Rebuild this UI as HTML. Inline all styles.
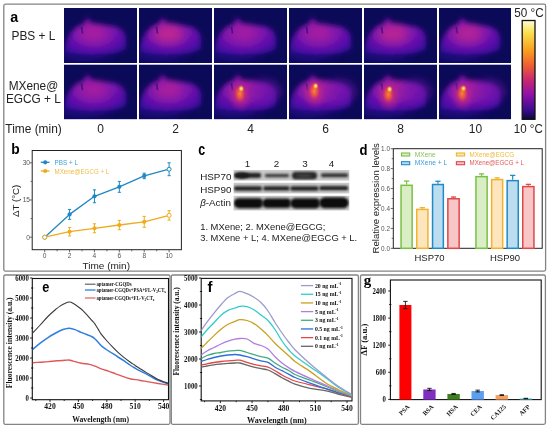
<!DOCTYPE html><html><head><meta charset="utf-8"><title>Figure</title>
<style>html,body{margin:0;padding:0;background:#fff;width:550px;height:427px;overflow:hidden;font-family:"Liberation Sans",sans-serif}svg{display:block;will-change:transform}</style></head><body>
<svg width="550" height="427" viewBox="0 0 550 427">
<defs>
<filter id="blur3" x="-20%" y="-20%" width="140%" height="140%"><feGaussianBlur stdDeviation="2.5"/></filter>
<filter id="blur1" x="-50%" y="-50%" width="200%" height="200%"><feGaussianBlur stdDeviation="1.2"/></filter>
<filter id="blur05" x="-50%" y="-50%" width="200%" height="200%"><feGaussianBlur stdDeviation="0.6"/></filter>
<radialGradient id="body" cx="0.4" cy="0.42" r="0.6"><stop offset="0" stop-color="#b226b6"/><stop offset="0.45" stop-color="#8a18b4"/><stop offset="1" stop-color="#3c0e98"/></radialGradient>
<radialGradient id="bodyb" cx="0.4" cy="0.42" r="0.6"><stop offset="0" stop-color="#d04a98"/><stop offset="0.45" stop-color="#9a20b0"/><stop offset="1" stop-color="#3c0e98"/></radialGradient>
<radialGradient id="hot" cx="0.5" cy="0.5" r="0.5"><stop offset="0" stop-color="#fff490"/><stop offset="0.15" stop-color="#ffd040"/><stop offset="0.35" stop-color="#f87a28"/><stop offset="0.65" stop-color="#d03070" stop-opacity="0.8"/><stop offset="1" stop-color="#a020a0" stop-opacity="0"/></radialGradient>
<linearGradient id="cbar" x1="0" y1="0" x2="0" y2="1"><stop offset="0" stop-color="#fcfdd8"/><stop offset="0.12" stop-color="#f9e050"/><stop offset="0.3" stop-color="#f8a020"/><stop offset="0.45" stop-color="#f06030"/><stop offset="0.6" stop-color="#c82870"/><stop offset="0.75" stop-color="#9010a8"/><stop offset="0.9" stop-color="#400c90"/><stop offset="1" stop-color="#0c0840"/></linearGradient>
<filter id="b6" x="-50%" y="-50%" width="200%" height="200%"><feGaussianBlur stdDeviation="6"/></filter>
<filter id="b25" x="-50%" y="-50%" width="200%" height="200%"><feGaussianBlur stdDeviation="2.5"/></filter>
<filter id="b4" x="-50%" y="-50%" width="200%" height="200%"><feGaussianBlur stdDeviation="4"/></filter>
<filter id="b3" x="-50%" y="-50%" width="200%" height="200%"><feGaussianBlur stdDeviation="3"/></filter>
<filter id="b2" x="-50%" y="-50%" width="200%" height="200%"><feGaussianBlur stdDeviation="1.8"/></filter>
<filter id="b15" x="-50%" y="-50%" width="200%" height="200%"><feGaussianBlur stdDeviation="1.5"/></filter>
<filter id="b08" x="-80%" y="-80%" width="260%" height="260%"><feGaussianBlur stdDeviation="0.8"/></filter>
<filter id="b05" x="-80%" y="-80%" width="260%" height="260%"><feGaussianBlur stdDeviation="0.5"/></filter>
<linearGradient id="bodyg" x1="0" y1="0" x2="0" y2="1"><stop offset="0.2" stop-color="#9414aa"/><stop offset="0.55" stop-color="#8012ac"/><stop offset="1" stop-color="#3a10a2"/></linearGradient>
<radialGradient id="bodyr" gradientUnits="userSpaceOnUse" cx="30" cy="23" r="30" gradientTransform="translate(30,23) scale(1.45,1) translate(-30,-23)"><stop offset="0" stop-color="#9c14aa"/><stop offset="0.45" stop-color="#7a12ae"/><stop offset="0.8" stop-color="#4a10a6"/><stop offset="1" stop-color="#30109c"/></radialGradient>
<radialGradient id="hred"><stop offset="0" stop-color="#e03868" stop-opacity="0.85"/><stop offset="0.6" stop-color="#c02888" stop-opacity="0.45"/><stop offset="1" stop-color="#a020a0" stop-opacity="0"/></radialGradient>
<radialGradient id="horg"><stop offset="0" stop-color="#f88a30" stop-opacity="1"/><stop offset="0.5" stop-color="#f06030" stop-opacity="0.7"/><stop offset="1" stop-color="#d03070" stop-opacity="0"/></radialGradient>
<radialGradient id="hcore"><stop offset="0" stop-color="#fff6a0"/><stop offset="0.35" stop-color="#ffe060" stop-opacity="0.95"/><stop offset="0.7" stop-color="#ffa030" stop-opacity="0.5"/><stop offset="1" stop-color="#ff8030" stop-opacity="0"/></radialGradient>
</defs>
<rect width="550" height="427" fill="#fff"/>
<rect x="3.8" y="4.2" width="541.8" height="266.9" rx="1.5" fill="none" stroke="#848484" stroke-width="1.3"/>
<rect x="3.8" y="275" width="166.2" height="149.3" rx="1.5" fill="none" stroke="#848484" stroke-width="1.3"/>
<rect x="171.3" y="275" width="187.1" height="149.3" rx="1.5" fill="none" stroke="#848484" stroke-width="1.3"/>
<rect x="360.5" y="275" width="184.9" height="149.3" rx="1.5" fill="none" stroke="#848484" stroke-width="1.3"/>
<text transform="translate(10.3,21.5) scale(0.93,1.0)" font-family='"Liberation Sans", sans-serif' font-size="15.4" font-weight="bold" fill="#000">a</text>
<text x="11.5" y="40.3" font-family='"Liberation Sans", sans-serif' font-size="12" font-weight="normal" fill="#222" text-anchor="start" textLength="44" lengthAdjust="spacingAndGlyphs">PBS + L</text>
<text x="8.7" y="89.8" font-family='"Liberation Sans", sans-serif' font-size="12" font-weight="normal" fill="#222" text-anchor="start" textLength="49.5" lengthAdjust="spacingAndGlyphs">MXene@</text>
<text x="5.9" y="103.3" font-family='"Liberation Sans", sans-serif' font-size="12" font-weight="normal" fill="#222" text-anchor="start" textLength="55" lengthAdjust="spacingAndGlyphs">EGCG + L</text>
<text x="5.3" y="133.1" font-family='"Liberation Sans", sans-serif' font-size="12" font-weight="normal" fill="#222" text-anchor="start" textLength="56.5" lengthAdjust="spacingAndGlyphs">Time (min)</text>
<text x="100.5" y="133.1" font-family='"Liberation Sans", sans-serif' font-size="12" font-weight="normal" fill="#222" text-anchor="middle" >0</text>
<text x="175.5" y="133.1" font-family='"Liberation Sans", sans-serif' font-size="12" font-weight="normal" fill="#222" text-anchor="middle" >2</text>
<text x="250.5" y="133.1" font-family='"Liberation Sans", sans-serif' font-size="12" font-weight="normal" fill="#222" text-anchor="middle" >4</text>
<text x="325.5" y="133.1" font-family='"Liberation Sans", sans-serif' font-size="12" font-weight="normal" fill="#222" text-anchor="middle" >6</text>
<text x="400.5" y="133.1" font-family='"Liberation Sans", sans-serif' font-size="12" font-weight="normal" fill="#222" text-anchor="middle" >8</text>
<text x="475.5" y="133.1" font-family='"Liberation Sans", sans-serif' font-size="12" font-weight="normal" fill="#222" text-anchor="middle" >10</text>
<svg x="64" y="8" width="73" height="54.8" viewBox="0 0 73 55" preserveAspectRatio="none" overflow="hidden">
<rect width="73" height="55" fill="#0b0a58"/>
<ellipse cx="20" cy="44" rx="26" ry="9" fill="#3010a0" opacity="0.55" filter="url(#b6)"/>
<path d="M2,36 C4,28 8,22 13,19 L20,16 L23.5,9 L27,15 C34,17 44,17 52,19 C58,21 61,24 62,30 L62,40 C58,45 48,46 38,46 C26,47 14,46 2,44 Z" fill="url(#bodyr)" filter="url(#b25)"/>
<ellipse cx="29" cy="26" rx="15" ry="9" fill="#c42a8c" opacity="0.35" filter="url(#b4)"/>
<path d="M17.5,19 L18.5,25.5" stroke="#2a0c7a" stroke-width="1.6" opacity="0.75" filter="url(#b05)"/>
</svg>
<svg x="139" y="8" width="73" height="54.8" viewBox="0 0 73 55" preserveAspectRatio="none" overflow="hidden">
<rect width="73" height="55" fill="#0b0a58"/>
<ellipse cx="20" cy="44" rx="26" ry="9" fill="#3010a0" opacity="0.55" filter="url(#b6)"/>
<path d="M2,36 C4,28 8,22 13,19 L20,16 L23.5,9 L27,15 C34,17 44,17 52,19 C58,21 61,24 62,30 L62,40 C58,45 48,46 38,46 C26,47 14,46 2,44 Z" fill="url(#bodyr)" filter="url(#b25)"/>
<ellipse cx="29" cy="26" rx="15" ry="9" fill="#c42a8c" opacity="0.8" filter="url(#b4)"/>
<path d="M17.5,19 L18.5,25.5" stroke="#2a0c7a" stroke-width="1.6" opacity="0.75" filter="url(#b05)"/>
</svg>
<svg x="214" y="8" width="73" height="54.8" viewBox="0 0 73 55" preserveAspectRatio="none" overflow="hidden">
<rect width="73" height="55" fill="#0b0a58"/>
<ellipse cx="20" cy="44" rx="26" ry="9" fill="#3010a0" opacity="0.55" filter="url(#b6)"/>
<path d="M2,36 C4,28 8,22 13,19 L20,16 L23.5,9 L27,15 C34,17 44,17 52,19 C58,21 61,24 62,30 L62,40 C58,45 48,46 38,46 C26,47 14,46 2,44 Z" fill="url(#bodyr)" filter="url(#b25)"/>
<ellipse cx="29" cy="26" rx="15" ry="9" fill="#c42a8c" opacity="0.25" filter="url(#b4)"/>
<path d="M17.5,19 L18.5,25.5" stroke="#2a0c7a" stroke-width="1.6" opacity="0.75" filter="url(#b05)"/>
</svg>
<svg x="289" y="8" width="73" height="54.8" viewBox="0 0 73 55" preserveAspectRatio="none" overflow="hidden">
<rect width="73" height="55" fill="#0b0a58"/>
<ellipse cx="20" cy="44" rx="26" ry="9" fill="#3010a0" opacity="0.55" filter="url(#b6)"/>
<path d="M2,36 C4,28 8,22 13,19 L20,16 L23.5,9 L27,15 C34,17 44,17 52,19 C58,21 61,24 62,30 L62,40 C58,45 48,46 38,46 C26,47 14,46 2,44 Z" fill="url(#bodyr)" filter="url(#b25)"/>
<ellipse cx="29" cy="26" rx="15" ry="9" fill="#c42a8c" opacity="0.3" filter="url(#b4)"/>
<path d="M17.5,19 L18.5,25.5" stroke="#2a0c7a" stroke-width="1.6" opacity="0.75" filter="url(#b05)"/>
</svg>
<svg x="364" y="8" width="73" height="54.8" viewBox="0 0 73 55" preserveAspectRatio="none" overflow="hidden">
<rect width="73" height="55" fill="#0b0a58"/>
<ellipse cx="20" cy="44" rx="26" ry="9" fill="#3010a0" opacity="0.55" filter="url(#b6)"/>
<path d="M2,36 C4,28 8,22 13,19 L20,16 L23.5,9 L27,15 C34,17 44,17 52,19 C58,21 61,24 62,30 L62,40 C58,45 48,46 38,46 C26,47 14,46 2,44 Z" fill="url(#bodyr)" filter="url(#b25)"/>
<ellipse cx="29" cy="26" rx="15" ry="9" fill="#c42a8c" opacity="0.7" filter="url(#b4)"/>
<path d="M17.5,19 L18.5,25.5" stroke="#2a0c7a" stroke-width="1.6" opacity="0.75" filter="url(#b05)"/>
</svg>
<svg x="439" y="8" width="72" height="54.8" viewBox="0 0 73 55" preserveAspectRatio="none" overflow="hidden">
<rect width="73" height="55" fill="#0b0a58"/>
<ellipse cx="20" cy="44" rx="26" ry="9" fill="#3010a0" opacity="0.55" filter="url(#b6)"/>
<path d="M2,36 C4,28 8,22 13,19 L20,16 L23.5,9 L27,15 C34,17 44,17 52,19 C58,21 61,24 62,30 L62,40 C58,45 48,46 38,46 C26,47 14,46 2,44 Z" fill="url(#bodyr)" filter="url(#b25)"/>
<ellipse cx="29" cy="26" rx="15" ry="9" fill="#c42a8c" opacity="0.6" filter="url(#b4)"/>
<path d="M17.5,19 L18.5,25.5" stroke="#2a0c7a" stroke-width="1.6" opacity="0.75" filter="url(#b05)"/>
</svg>
<svg x="64" y="64.7" width="73" height="54.5" viewBox="0 0 73 55" preserveAspectRatio="none" overflow="hidden">
<rect width="73" height="55" fill="#0b0a58"/>
<ellipse cx="20" cy="44" rx="26" ry="9" fill="#3010a0" opacity="0.55" filter="url(#b6)"/>
<path d="M2,36 C4,28 8,22 13,19 L20,16 L23.5,9 L27,15 C34,17 44,17 52,19 C58,21 61,24 62,30 L62,40 C58,45 48,46 38,46 C26,47 14,46 2,44 Z" fill="url(#bodyr)" filter="url(#b25)"/>
<ellipse cx="29" cy="26" rx="15" ry="9" fill="#c42a8c" opacity="0.3" filter="url(#b4)"/>
<path d="M17.5,19 L18.5,25.5" stroke="#2a0c7a" stroke-width="1.6" opacity="0.75" filter="url(#b05)"/>
</svg>
<svg x="139" y="64.7" width="73" height="54.5" viewBox="0 0 73 55" preserveAspectRatio="none" overflow="hidden">
<rect width="73" height="55" fill="#0b0a58"/>
<ellipse cx="20" cy="44" rx="26" ry="9" fill="#3010a0" opacity="0.55" filter="url(#b6)"/>
<path d="M2,36 C4,28 8,22 13,19 L20,16 L23.5,9 L27,15 C34,17 44,17 52,19 C58,21 61,24 62,30 L62,40 C58,45 48,46 38,46 C26,47 14,46 2,44 Z" fill="url(#bodyr)" filter="url(#b25)"/>
<ellipse cx="29" cy="26" rx="15" ry="9" fill="#c42a8c" opacity="0.4" filter="url(#b4)"/>
<path d="M17.5,19 L18.5,25.5" stroke="#2a0c7a" stroke-width="1.6" opacity="0.75" filter="url(#b05)"/>
</svg>
<svg x="214" y="64.7" width="73" height="54.5" viewBox="0 0 73 55" preserveAspectRatio="none" overflow="hidden">
<rect width="73" height="55" fill="#0b0a58"/>
<ellipse cx="20" cy="44" rx="26" ry="9" fill="#3010a0" opacity="0.55" filter="url(#b6)"/>
<path d="M2,36 C4,28 8,22 13,19 L20,16 L23.5,9 L27,15 C34,17 44,17 52,19 C58,21 61,24 62,30 L62,40 C58,45 48,46 38,46 C26,47 14,46 2,44 Z" fill="url(#bodyr)" filter="url(#b25)"/>
<ellipse cx="29" cy="26" rx="15" ry="9" fill="#c42a8c" opacity="0.5" filter="url(#b4)"/>
<path d="M17.5,19 L18.5,25.5" stroke="#2a0c7a" stroke-width="1.6" opacity="0.75" filter="url(#b05)"/>
<ellipse cx="26.4" cy="31.2" rx="13" ry="16" fill="url(#hred)"/>
<ellipse cx="50" cy="27" rx="17" ry="12" fill="#7a12ae" opacity="0.55" filter="url(#b4)"/>
<ellipse cx="25.9" cy="29.2" rx="6" ry="9.5" fill="url(#horg)"/>
<ellipse cx="27.2" cy="24.2" rx="3" ry="3.4" fill="url(#hcore)"/>
</svg>
<svg x="289" y="64.7" width="73" height="54.5" viewBox="0 0 73 55" preserveAspectRatio="none" overflow="hidden">
<rect width="73" height="55" fill="#0b0a58"/>
<ellipse cx="20" cy="44" rx="26" ry="9" fill="#3010a0" opacity="0.55" filter="url(#b6)"/>
<path d="M2,36 C4,28 8,22 13,19 L20,16 L23.5,9 L27,15 C34,17 44,17 52,19 C58,21 61,24 62,30 L62,40 C58,45 48,46 38,46 C26,47 14,46 2,44 Z" fill="url(#bodyr)" filter="url(#b25)"/>
<ellipse cx="29" cy="26" rx="15" ry="9" fill="#c42a8c" opacity="0.6" filter="url(#b4)"/>
<path d="M17.5,19 L18.5,25.5" stroke="#2a0c7a" stroke-width="1.6" opacity="0.75" filter="url(#b05)"/>
<ellipse cx="25.8" cy="28.5" rx="13" ry="16" fill="url(#hred)"/>
<ellipse cx="50" cy="27" rx="17" ry="12" fill="#7a12ae" opacity="0.55" filter="url(#b4)"/>
<ellipse cx="25.3" cy="26.5" rx="6" ry="9.5" fill="url(#horg)"/>
<ellipse cx="26.6" cy="21.5" rx="3" ry="3.4" fill="url(#hcore)"/>
</svg>
<svg x="364" y="64.7" width="73" height="54.5" viewBox="0 0 73 55" preserveAspectRatio="none" overflow="hidden">
<rect width="73" height="55" fill="#0b0a58"/>
<ellipse cx="20" cy="44" rx="26" ry="9" fill="#3010a0" opacity="0.55" filter="url(#b6)"/>
<path d="M2,36 C4,28 8,22 13,19 L20,16 L23.5,9 L27,15 C34,17 44,17 52,19 C58,21 61,24 62,30 L62,40 C58,45 48,46 38,46 C26,47 14,46 2,44 Z" fill="url(#bodyr)" filter="url(#b25)"/>
<ellipse cx="29" cy="26" rx="15" ry="9" fill="#c42a8c" opacity="0.6" filter="url(#b4)"/>
<path d="M17.5,19 L18.5,25.5" stroke="#2a0c7a" stroke-width="1.6" opacity="0.75" filter="url(#b05)"/>
<ellipse cx="24.8" cy="31.8" rx="13" ry="16" fill="url(#hred)"/>
<ellipse cx="50" cy="27" rx="17" ry="12" fill="#7a12ae" opacity="0.55" filter="url(#b4)"/>
<ellipse cx="24.3" cy="29.8" rx="6" ry="9.5" fill="url(#horg)"/>
<ellipse cx="25.6" cy="24.8" rx="3" ry="3.4" fill="url(#hcore)"/>
</svg>
<svg x="439" y="64.7" width="72" height="54.5" viewBox="0 0 73 55" preserveAspectRatio="none" overflow="hidden">
<rect width="73" height="55" fill="#0b0a58"/>
<ellipse cx="20" cy="44" rx="26" ry="9" fill="#3010a0" opacity="0.55" filter="url(#b6)"/>
<path d="M2,36 C4,28 8,22 13,19 L20,16 L23.5,9 L27,15 C34,17 44,17 52,19 C58,21 61,24 62,30 L62,40 C58,45 48,46 38,46 C26,47 14,46 2,44 Z" fill="url(#bodyr)" filter="url(#b25)"/>
<ellipse cx="29" cy="26" rx="15" ry="9" fill="#c42a8c" opacity="0.5" filter="url(#b4)"/>
<path d="M17.5,19 L18.5,25.5" stroke="#2a0c7a" stroke-width="1.6" opacity="0.75" filter="url(#b05)"/>
<ellipse cx="24.0" cy="31.0" rx="13" ry="16" fill="url(#hred)"/>
<ellipse cx="50" cy="27" rx="17" ry="12" fill="#7a12ae" opacity="0.55" filter="url(#b4)"/>
<ellipse cx="23.5" cy="29.0" rx="6" ry="9.5" fill="url(#horg)"/>
<ellipse cx="24.8" cy="24.0" rx="3" ry="3.4" fill="url(#hcore)"/>
</svg>
<text x="514.3" y="17.4" font-family='"Liberation Sans", sans-serif' font-size="12.2" font-weight="normal" fill="#222" text-anchor="start" textLength="29.5" lengthAdjust="spacingAndGlyphs">50 °C</text>
<rect x="522.2" y="20.5" width="12.8" height="98.8" fill="url(#cbar)" stroke="#111" stroke-width="1.3"/>
<text x="513.8" y="132.9" font-family='"Liberation Sans", sans-serif' font-size="12.2" font-weight="normal" fill="#222" text-anchor="start" textLength="29" lengthAdjust="spacingAndGlyphs">10 °C</text>
<text transform="translate(11.2,154.4) scale(0.96,1.0)" font-family='"Liberation Sans", sans-serif' font-size="14.4" font-weight="bold" fill="#000">b</text>
<rect x="32.2" y="150.5" width="149.2" height="99.19999999999999" fill="none" stroke="#222" stroke-width="1" />
<line x1="44.7" y1="249.7" x2="44.7" y2="252.29999999999998" stroke="#444" stroke-width="0.8" />
<line x1="57.14" y1="249.7" x2="57.14" y2="251.29999999999998" stroke="#444" stroke-width="0.8" />
<line x1="69.58" y1="249.7" x2="69.58" y2="252.29999999999998" stroke="#444" stroke-width="0.8" />
<line x1="82.02000000000001" y1="249.7" x2="82.02000000000001" y2="251.29999999999998" stroke="#444" stroke-width="0.8" />
<line x1="94.46000000000001" y1="249.7" x2="94.46000000000001" y2="252.29999999999998" stroke="#444" stroke-width="0.8" />
<line x1="106.9" y1="249.7" x2="106.9" y2="251.29999999999998" stroke="#444" stroke-width="0.8" />
<line x1="119.34" y1="249.7" x2="119.34" y2="252.29999999999998" stroke="#444" stroke-width="0.8" />
<line x1="131.78" y1="249.7" x2="131.78" y2="251.29999999999998" stroke="#444" stroke-width="0.8" />
<line x1="144.22" y1="249.7" x2="144.22" y2="252.29999999999998" stroke="#444" stroke-width="0.8" />
<line x1="156.66" y1="249.7" x2="156.66" y2="251.29999999999998" stroke="#444" stroke-width="0.8" />
<line x1="169.1" y1="249.7" x2="169.1" y2="252.29999999999998" stroke="#444" stroke-width="0.8" />
<text x="44.7" y="257.5" font-family='"Liberation Sans", sans-serif' font-size="6.6" font-weight="normal" fill="#555" text-anchor="middle" >0</text>
<text x="69.58" y="257.5" font-family='"Liberation Sans", sans-serif' font-size="6.6" font-weight="normal" fill="#555" text-anchor="middle" >2</text>
<text x="94.46000000000001" y="257.5" font-family='"Liberation Sans", sans-serif' font-size="6.6" font-weight="normal" fill="#555" text-anchor="middle" >4</text>
<text x="119.34" y="257.5" font-family='"Liberation Sans", sans-serif' font-size="6.6" font-weight="normal" fill="#555" text-anchor="middle" >6</text>
<text x="144.22" y="257.5" font-family='"Liberation Sans", sans-serif' font-size="6.6" font-weight="normal" fill="#555" text-anchor="middle" >8</text>
<text x="169.1" y="257.5" font-family='"Liberation Sans", sans-serif' font-size="6.6" font-weight="normal" fill="#555" text-anchor="middle" >10</text>
<line x1="29.6" y1="237.2" x2="32.2" y2="237.2" stroke="#444" stroke-width="0.8" />
<line x1="30.6" y1="218.6" x2="32.2" y2="218.6" stroke="#444" stroke-width="0.8" />
<line x1="29.6" y1="200.0" x2="32.2" y2="200.0" stroke="#444" stroke-width="0.8" />
<line x1="30.6" y1="181.39999999999998" x2="32.2" y2="181.39999999999998" stroke="#444" stroke-width="0.8" />
<line x1="29.6" y1="162.79999999999998" x2="32.2" y2="162.79999999999998" stroke="#444" stroke-width="0.8" />
<text x="30" y="239.5" font-family='"Liberation Sans", sans-serif' font-size="6.6" font-weight="normal" fill="#555" text-anchor="end" >0</text>
<text x="30" y="202.3" font-family='"Liberation Sans", sans-serif' font-size="6.6" font-weight="normal" fill="#555" text-anchor="end" >15</text>
<text x="30" y="165.1" font-family='"Liberation Sans", sans-serif' font-size="6.6" font-weight="normal" fill="#555" text-anchor="end" >30</text>
<text x="82.5" y="269.2" font-family='"Liberation Sans", sans-serif' font-size="9.8" fill="#222" textLength="47.5" lengthAdjust="spacingAndGlyphs">Time (min)</text>
<text transform="translate(19.3,217) rotate(-90)" font-family='"Liberation Sans", sans-serif' font-size="9.5" fill="#222" textLength="32.3" lengthAdjust="spacingAndGlyphs">ΔT (°C)</text>
<polyline points="44.7,237.2 69.6,214.4 94.5,196.3 119.3,186.9 144.2,175.9 169.1,169.2" fill="none" stroke="#1f88c2" stroke-width="1.3" stroke-linejoin="round" stroke-linecap="round" />
<line x1="69.58" y1="209.42399999999998" x2="69.58" y2="219.344" stroke="#1f88c2" stroke-width="1" />
<line x1="67.98" y1="209.42399999999998" x2="71.17999999999999" y2="209.42399999999998" stroke="#1f88c2" stroke-width="1" />
<line x1="67.98" y1="219.344" x2="71.17999999999999" y2="219.344" stroke="#1f88c2" stroke-width="1" />
<line x1="94.46000000000001" y1="189.83199999999997" x2="94.46000000000001" y2="202.72799999999998" stroke="#1f88c2" stroke-width="1" />
<line x1="92.86000000000001" y1="189.83199999999997" x2="96.06" y2="189.83199999999997" stroke="#1f88c2" stroke-width="1" />
<line x1="92.86000000000001" y1="202.72799999999998" x2="96.06" y2="202.72799999999998" stroke="#1f88c2" stroke-width="1" />
<line x1="119.34" y1="181.4" x2="119.34" y2="192.31199999999998" stroke="#1f88c2" stroke-width="1" />
<line x1="117.74000000000001" y1="181.4" x2="120.94" y2="181.4" stroke="#1f88c2" stroke-width="1" />
<line x1="117.74000000000001" y1="192.31199999999998" x2="120.94" y2="192.31199999999998" stroke="#1f88c2" stroke-width="1" />
<line x1="144.22" y1="173.21599999999998" x2="144.22" y2="178.672" stroke="#1f88c2" stroke-width="1" />
<line x1="142.62" y1="173.21599999999998" x2="145.82" y2="173.21599999999998" stroke="#1f88c2" stroke-width="1" />
<line x1="142.62" y1="178.672" x2="145.82" y2="178.672" stroke="#1f88c2" stroke-width="1" />
<line x1="169.1" y1="162.79999999999998" x2="169.1" y2="175.696" stroke="#1f88c2" stroke-width="1" />
<line x1="167.5" y1="162.79999999999998" x2="170.7" y2="162.79999999999998" stroke="#1f88c2" stroke-width="1" />
<line x1="167.5" y1="175.696" x2="170.7" y2="175.696" stroke="#1f88c2" stroke-width="1" />
<circle cx="44.7" cy="237.2" r="2" fill="#fff" stroke="#1f88c2" stroke-width="1"/>
<circle cx="69.58" cy="214.384" r="2.1" fill="#1f88c2"/>
<circle cx="94.46000000000001" cy="196.27999999999997" r="2.1" fill="#1f88c2"/>
<circle cx="119.34" cy="186.856" r="2.1" fill="#1f88c2"/>
<circle cx="144.22" cy="175.944" r="2.1" fill="#1f88c2"/>
<circle cx="169.1" cy="169.248" r="2" fill="#fff" stroke="#1f88c2" stroke-width="1"/>
<polyline points="44.7,237.2 69.6,231.7 94.5,228.3 119.3,225.0 144.2,221.8 169.1,215.4" fill="none" stroke="#efab1c" stroke-width="1.3" stroke-linejoin="round" stroke-linecap="round" />
<line x1="69.58" y1="227.528" x2="69.58" y2="235.96" stroke="#efab1c" stroke-width="1" />
<line x1="67.98" y1="227.528" x2="71.17999999999999" y2="227.528" stroke="#efab1c" stroke-width="1" />
<line x1="67.98" y1="235.96" x2="71.17999999999999" y2="235.96" stroke="#efab1c" stroke-width="1" />
<line x1="94.46000000000001" y1="223.808" x2="94.46000000000001" y2="232.736" stroke="#efab1c" stroke-width="1" />
<line x1="92.86000000000001" y1="223.808" x2="96.06" y2="223.808" stroke="#efab1c" stroke-width="1" />
<line x1="92.86000000000001" y1="232.736" x2="96.06" y2="232.736" stroke="#efab1c" stroke-width="1" />
<line x1="119.34" y1="220.336" x2="119.34" y2="229.76" stroke="#efab1c" stroke-width="1" />
<line x1="117.74000000000001" y1="220.336" x2="120.94" y2="220.336" stroke="#efab1c" stroke-width="1" />
<line x1="117.74000000000001" y1="229.76" x2="120.94" y2="229.76" stroke="#efab1c" stroke-width="1" />
<line x1="144.22" y1="216.368" x2="144.22" y2="227.27999999999997" stroke="#efab1c" stroke-width="1" />
<line x1="142.62" y1="216.368" x2="145.82" y2="216.368" stroke="#efab1c" stroke-width="1" />
<line x1="142.62" y1="227.27999999999997" x2="145.82" y2="227.27999999999997" stroke="#efab1c" stroke-width="1" />
<line x1="169.1" y1="210.664" x2="169.1" y2="220.08799999999997" stroke="#efab1c" stroke-width="1" />
<line x1="167.5" y1="210.664" x2="170.7" y2="210.664" stroke="#efab1c" stroke-width="1" />
<line x1="167.5" y1="220.08799999999997" x2="170.7" y2="220.08799999999997" stroke="#efab1c" stroke-width="1" />
<circle cx="44.7" cy="237.2" r="2" fill="#fff" stroke="#efab1c" stroke-width="1"/>
<circle cx="69.58" cy="231.744" r="2.1" fill="#efab1c"/>
<circle cx="94.46000000000001" cy="228.272" r="2.1" fill="#efab1c"/>
<circle cx="119.34" cy="225.048" r="2.1" fill="#efab1c"/>
<circle cx="144.22" cy="221.82399999999998" r="2.1" fill="#efab1c"/>
<circle cx="169.1" cy="215.37599999999998" r="2" fill="#fff" stroke="#efab1c" stroke-width="1"/>
<line x1="40.8" y1="162.3" x2="49.5" y2="162.3" stroke="#1f88c2" stroke-width="1.3" />
<circle cx="45.2" cy="162.3" r="2.1" fill="#1f88c2"/>
<text x="54.6" y="164.7" font-family='"Liberation Sans", sans-serif' font-size="6.4" font-weight="normal" fill="#3ba0d6" text-anchor="start" textLength="23.3" lengthAdjust="spacingAndGlyphs">PBS + L</text>
<line x1="40.8" y1="171.0" x2="49.5" y2="171.0" stroke="#efab1c" stroke-width="1.3" />
<circle cx="45.2" cy="171.0" r="2.1" fill="#efab1c"/>
<text x="54.6" y="173.5" font-family='"Liberation Sans", sans-serif' font-size="6.4" font-weight="normal" fill="#efbd45" text-anchor="start" textLength="54.6" lengthAdjust="spacingAndGlyphs">MXene@EGCG + L</text>
<text transform="translate(198.3,154.8) scale(0.8,1.0)" font-family='"Liberation Sans", sans-serif' font-size="15.6" font-weight="bold" fill="#000">c</text>
<text x="247.6" y="166.8" font-family='"Liberation Sans", sans-serif' font-size="9.8" font-weight="normal" fill="#222" text-anchor="middle" >1</text>
<text x="276.5" y="166.8" font-family='"Liberation Sans", sans-serif' font-size="9.8" font-weight="normal" fill="#222" text-anchor="middle" >2</text>
<text x="305" y="166.8" font-family='"Liberation Sans", sans-serif' font-size="9.8" font-weight="normal" fill="#222" text-anchor="middle" >3</text>
<text x="331.4" y="166.8" font-family='"Liberation Sans", sans-serif' font-size="9.8" font-weight="normal" fill="#222" text-anchor="middle" >4</text>
<text x="200.2" y="180.1" font-family='"Liberation Sans", sans-serif' font-size="9.8" font-weight="normal" fill="#222" text-anchor="start" textLength="31.2" lengthAdjust="spacingAndGlyphs">HSP70</text>
<text x="200.2" y="193.2" font-family='"Liberation Sans", sans-serif' font-size="9.8" font-weight="normal" fill="#222" text-anchor="start" textLength="31.2" lengthAdjust="spacingAndGlyphs">HSP90</text>
<text x="200.2" y="206.4" font-family='"Liberation Sans", sans-serif' font-size="9.8" fill="#222"><tspan font-style="italic">β</tspan>-Actin</text>
<rect x="233.6" y="170" width="115.7" height="10.599999999999994" fill="#cdcdcd" stroke="none" stroke-width="1" />
<rect x="233.6" y="182.8" width="115.7" height="10.599999999999994" fill="#cdcdcd" stroke="none" stroke-width="1" />
<rect x="233.6" y="195.8" width="115.7" height="14.599999999999994" fill="#cdcdcd" stroke="none" stroke-width="1" />
<clipPath id="cclip"><rect x="233.6" y="170" width="115.7" height="10.6"/><rect x="233.6" y="182.8" width="115.7" height="10.6"/><rect x="233.6" y="195.8" width="115.7" height="14.6"/></clipPath>
<g clip-path="url(#cclip)">
<rect x="233.5" y="171.7" width="28.5" height="7.3999999999999995" rx="3.6999999999999997" fill="#8a8a8a" opacity="0.45" filter="url(#b15)"/>
<rect x="234.5" y="173.1" width="26.5" height="4.6" rx="2.3" fill="#1a1a1a" opacity="0.95" filter="url(#b08)"/>
<rect x="264" y="172.79999999999998" width="26" height="5.6" rx="2.8" fill="#8a8a8a" opacity="0.45" filter="url(#b15)"/>
<rect x="265" y="174.2" width="24" height="2.8" rx="1.4" fill="#2a2a2a" opacity="0.9" filter="url(#b08)"/>
<rect x="291" y="170.5" width="27" height="10.2" rx="5.1" fill="#8a8a8a" opacity="0.45" filter="url(#b15)"/>
<rect x="292" y="171.9" width="25" height="7.4" rx="3.7" fill="#242424" opacity="0.95" filter="url(#b08)"/>
<rect x="320" y="171.99999999999997" width="29" height="6.4" rx="3.2" fill="#8a8a8a" opacity="0.45" filter="url(#b15)"/>
<rect x="321" y="173.39999999999998" width="27" height="3.6" rx="1.8" fill="#262626" opacity="0.9" filter="url(#b08)"/>
<rect x="233" y="185.0" width="30" height="6.8" rx="3.4" fill="#8a8a8a" opacity="0.45" filter="url(#b15)"/>
<rect x="234" y="186.4" width="28" height="4.0" rx="2.0" fill="#161616" opacity="0.95" filter="url(#b08)"/>
<rect x="262.5" y="185.1" width="28.0" height="6.6" rx="3.3" fill="#8a8a8a" opacity="0.45" filter="url(#b15)"/>
<rect x="263.5" y="186.5" width="26.0" height="3.8" rx="1.9" fill="#161616" opacity="0.95" filter="url(#b08)"/>
<rect x="289.5" y="185.0" width="30.0" height="6.8" rx="3.4" fill="#8a8a8a" opacity="0.45" filter="url(#b15)"/>
<rect x="290.5" y="186.4" width="28.0" height="4.0" rx="2.0" fill="#161616" opacity="0.95" filter="url(#b08)"/>
<rect x="318.5" y="184.89999999999998" width="30.5" height="6.6" rx="3.3" fill="#8a8a8a" opacity="0.45" filter="url(#b15)"/>
<rect x="319.5" y="186.29999999999998" width="28.5" height="3.8" rx="1.9" fill="#161616" opacity="0.95" filter="url(#b08)"/>
<rect x="233" y="196.99999999999997" width="31.5" height="12.399999999999999" rx="6.199999999999999" fill="#8a8a8a" opacity="0.45" filter="url(#b15)"/>
<rect x="234" y="198.39999999999998" width="29.5" height="9.6" rx="4.8" fill="#0c0c0c" opacity="1" filter="url(#b08)"/>
<rect x="261.5" y="197.29999999999998" width="31.0" height="11.8" rx="5.9" fill="#8a8a8a" opacity="0.45" filter="url(#b15)"/>
<rect x="262.5" y="198.7" width="29.0" height="9.0" rx="4.5" fill="#111" opacity="1" filter="url(#b08)"/>
<rect x="289.5" y="197.2" width="32.0" height="12.399999999999999" rx="6.199999999999999" fill="#8a8a8a" opacity="0.45" filter="url(#b15)"/>
<rect x="290.5" y="198.6" width="30.0" height="9.6" rx="4.8" fill="#0c0c0c" opacity="1" filter="url(#b08)"/>
<rect x="318.5" y="196.20000000000002" width="31.0" height="13.2" rx="6.6" fill="#8a8a8a" opacity="0.45" filter="url(#b15)"/>
<rect x="319.5" y="197.60000000000002" width="29.0" height="10.4" rx="5.2" fill="#0a0a0a" opacity="1" filter="url(#b08)"/>
<ellipse cx="242" cy="175.5" rx="7.5" ry="2.9" fill="#1a1a1a" filter="url(#b08)"/>
<ellipse cx="304" cy="175.8" rx="8" ry="1.6" fill="#555" opacity="0.6" filter="url(#b08)"/>
</g>
<text x="200.2" y="230.2" font-family='"Liberation Sans", sans-serif' font-size="9.4" font-weight="normal" fill="#222" text-anchor="start" >1. MXene; 2. MXene@EGCG;</text>
<text x="200.2" y="240.8" font-family='"Liberation Sans", sans-serif' font-size="9.4" font-weight="normal" fill="#222" text-anchor="start" >3. MXene + L; 4. MXene@EGCG + L.</text>
<text transform="translate(359.5,154.7) scale(0.9,1.0)" font-family='"Liberation Sans", sans-serif' font-size="14.5" font-weight="bold" fill="#000">d</text>
<rect x="393.3" y="148.7" width="148.90000000000003" height="99.60000000000002" fill="none" stroke="#222" stroke-width="1" />
<line x1="390.7" y1="248.3" x2="393.3" y2="248.3" stroke="#444" stroke-width="0.8" />
<line x1="391.7" y1="238.34" x2="393.3" y2="238.34" stroke="#444" stroke-width="0.8" />
<line x1="390.7" y1="228.38" x2="393.3" y2="228.38" stroke="#444" stroke-width="0.8" />
<line x1="391.7" y1="218.42000000000002" x2="393.3" y2="218.42000000000002" stroke="#444" stroke-width="0.8" />
<line x1="390.7" y1="208.46" x2="393.3" y2="208.46" stroke="#444" stroke-width="0.8" />
<line x1="391.7" y1="198.5" x2="393.3" y2="198.5" stroke="#444" stroke-width="0.8" />
<line x1="390.7" y1="188.54000000000002" x2="393.3" y2="188.54000000000002" stroke="#444" stroke-width="0.8" />
<line x1="391.7" y1="178.58000000000004" x2="393.3" y2="178.58000000000004" stroke="#444" stroke-width="0.8" />
<line x1="390.7" y1="168.62" x2="393.3" y2="168.62" stroke="#444" stroke-width="0.8" />
<line x1="391.7" y1="158.66000000000003" x2="393.3" y2="158.66000000000003" stroke="#444" stroke-width="0.8" />
<line x1="390.7" y1="148.70000000000002" x2="393.3" y2="148.70000000000002" stroke="#444" stroke-width="0.8" />
<text x="390" y="250.5" font-family='"Liberation Sans", sans-serif' font-size="6.4" font-weight="normal" fill="#555" text-anchor="end" >0.0</text>
<text x="390" y="230.57999999999998" font-family='"Liberation Sans", sans-serif' font-size="6.4" font-weight="normal" fill="#555" text-anchor="end" >0.2</text>
<text x="390" y="210.66" font-family='"Liberation Sans", sans-serif' font-size="6.4" font-weight="normal" fill="#555" text-anchor="end" >0.4</text>
<text x="390" y="190.74" font-family='"Liberation Sans", sans-serif' font-size="6.4" font-weight="normal" fill="#555" text-anchor="end" >0.6</text>
<text x="390" y="170.82" font-family='"Liberation Sans", sans-serif' font-size="6.4" font-weight="normal" fill="#555" text-anchor="end" >0.8</text>
<text x="390" y="150.9" font-family='"Liberation Sans", sans-serif' font-size="6.4" font-weight="normal" fill="#555" text-anchor="end" >1.0</text>
<text transform="translate(378.8,253.4) rotate(-90)" font-family='"Liberation Sans", sans-serif' font-size="9.6" fill="#222" textLength="110.3" lengthAdjust="spacingAndGlyphs">Relative expression levels</text>
<text x="429.5" y="260.8" font-family='"Liberation Sans", sans-serif' font-size="9.5" font-weight="normal" fill="#222" text-anchor="middle" >HSP70</text>
<text x="505" y="260.8" font-family='"Liberation Sans", sans-serif' font-size="9.5" font-weight="normal" fill="#222" text-anchor="middle" >HSP90</text>
<rect x="401.05" y="185.306" width="11.099999999999966" height="62.994" fill="#d9edc6" stroke="#7ac143" stroke-width="1.5" />
<line x1="406.6" y1="184.556" x2="406.6" y2="181.07" stroke="#7ac143" stroke-width="1.2" />
<line x1="404.0" y1="181.07" x2="409.20000000000005" y2="181.07" stroke="#7ac143" stroke-width="1.3" />
<rect x="416.75" y="209.4092" width="11.199999999999989" height="38.89080000000001" fill="#fde6bd" stroke="#f1b22e" stroke-width="1.5" />
<line x1="422.35" y1="208.6592" x2="422.35" y2="207.66320000000002" stroke="#f1b22e" stroke-width="1.2" />
<line x1="419.75" y1="207.66320000000002" x2="424.95000000000005" y2="207.66320000000002" stroke="#f1b22e" stroke-width="1.3" />
<rect x="432.55" y="184.50920000000002" width="10.800000000000011" height="63.79079999999999" fill="#bcdcf0" stroke="#1f8ac6" stroke-width="1.5" />
<line x1="437.95000000000005" y1="183.75920000000002" x2="437.95000000000005" y2="181.2692" stroke="#1f8ac6" stroke-width="1.2" />
<line x1="435.35" y1="181.2692" x2="440.55000000000007" y2="181.2692" stroke="#1f8ac6" stroke-width="1.3" />
<rect x="447.85" y="198.752" width="11.299999999999955" height="49.548" fill="#f8c6c6" stroke="#e04848" stroke-width="1.5" />
<line x1="453.5" y1="198.002" x2="453.5" y2="197.00600000000003" stroke="#e04848" stroke-width="1.2" />
<line x1="450.9" y1="197.00600000000003" x2="456.1" y2="197.00600000000003" stroke="#e04848" stroke-width="1.3" />
<rect x="475.95" y="176.6408" width="11.199999999999989" height="71.6592" fill="#d9edc6" stroke="#7ac143" stroke-width="1.5" />
<line x1="481.54999999999995" y1="175.8908" x2="481.54999999999995" y2="173.89880000000002" stroke="#7ac143" stroke-width="1.2" />
<line x1="478.94999999999993" y1="173.89880000000002" x2="484.15" y2="173.89880000000002" stroke="#7ac143" stroke-width="1.3" />
<rect x="491.65" y="179.6288" width="11.0" height="68.6712" fill="#fde6bd" stroke="#f1b22e" stroke-width="1.5" />
<line x1="497.15" y1="178.8788" x2="497.15" y2="177.88280000000003" stroke="#f1b22e" stroke-width="1.2" />
<line x1="494.54999999999995" y1="177.88280000000003" x2="499.75" y2="177.88280000000003" stroke="#f1b22e" stroke-width="1.3" />
<rect x="507.15" y="180.6248" width="11.100000000000023" height="67.67520000000002" fill="#bcdcf0" stroke="#1f8ac6" stroke-width="1.5" />
<line x1="512.7" y1="179.8748" x2="512.7" y2="175.39280000000002" stroke="#1f8ac6" stroke-width="1.2" />
<line x1="510.1" y1="175.39280000000002" x2="515.3000000000001" y2="175.39280000000002" stroke="#1f8ac6" stroke-width="1.3" />
<rect x="522.75" y="186.60080000000002" width="11.200000000000045" height="61.69919999999999" fill="#f8c6c6" stroke="#e04848" stroke-width="1.5" />
<line x1="528.35" y1="185.85080000000002" x2="528.35" y2="184.35680000000002" stroke="#e04848" stroke-width="1.2" />
<line x1="525.75" y1="184.35680000000002" x2="530.95" y2="184.35680000000002" stroke="#e04848" stroke-width="1.3" />
<rect x="401.5" y="153.0" width="8.2" height="3" fill="#d9edc6" stroke="#7ac143" stroke-width="1.1" />
<text x="414.7" y="156.7" font-family='"Liberation Sans", sans-serif' font-size="6.4" font-weight="normal" fill="#86c358" text-anchor="start" textLength="21" lengthAdjust="spacingAndGlyphs">MXene</text>
<rect x="401.5" y="161.7" width="8.2" height="3" fill="#bcdcf0" stroke="#1f8ac6" stroke-width="1.1" />
<text x="414.7" y="165.39999999999998" font-family='"Liberation Sans", sans-serif' font-size="6.4" font-weight="normal" fill="#3a9ad8" text-anchor="start" textLength="32.5" lengthAdjust="spacingAndGlyphs">MXene + L</text>
<rect x="456.4" y="153.0" width="8.2" height="3" fill="#fde6bd" stroke="#f1b22e" stroke-width="1.1" />
<text x="469.59999999999997" y="156.7" font-family='"Liberation Sans", sans-serif' font-size="6.4" font-weight="normal" fill="#f2b83a" text-anchor="start" textLength="44.5" lengthAdjust="spacingAndGlyphs">MXene@EGCG</text>
<rect x="456.4" y="161.7" width="8.2" height="3" fill="#f8c6c6" stroke="#e04848" stroke-width="1.1" />
<text x="469.59999999999997" y="165.39999999999998" font-family='"Liberation Sans", sans-serif' font-size="6.4" font-weight="normal" fill="#e05a5a" text-anchor="start" textLength="54.3" lengthAdjust="spacingAndGlyphs">MXene@EGCG + L</text>
<rect x="32.3" y="278.5" width="136.2" height="121.19999999999999" fill="none" stroke="#111" stroke-width="1.1" />
<line x1="30.099999999999998" y1="398.0" x2="32.3" y2="398.0" stroke="#111" stroke-width="0.9" />
<line x1="30.999999999999996" y1="388.0" x2="33.3" y2="388.0" stroke="#111" stroke-width="0.9" />
<line x1="30.099999999999998" y1="378.0" x2="32.3" y2="378.0" stroke="#111" stroke-width="0.9" />
<line x1="30.999999999999996" y1="368.0" x2="33.3" y2="368.0" stroke="#111" stroke-width="0.9" />
<line x1="30.099999999999998" y1="358.0" x2="32.3" y2="358.0" stroke="#111" stroke-width="0.9" />
<line x1="30.999999999999996" y1="348.0" x2="33.3" y2="348.0" stroke="#111" stroke-width="0.9" />
<line x1="30.099999999999998" y1="338.0" x2="32.3" y2="338.0" stroke="#111" stroke-width="0.9" />
<line x1="30.999999999999996" y1="328.0" x2="33.3" y2="328.0" stroke="#111" stroke-width="0.9" />
<line x1="30.099999999999998" y1="318.0" x2="32.3" y2="318.0" stroke="#111" stroke-width="0.9" />
<line x1="30.999999999999996" y1="308.0" x2="33.3" y2="308.0" stroke="#111" stroke-width="0.9" />
<line x1="30.099999999999998" y1="298.0" x2="32.3" y2="298.0" stroke="#111" stroke-width="0.9" />
<line x1="30.999999999999996" y1="288.0" x2="33.3" y2="288.0" stroke="#111" stroke-width="0.9" />
<line x1="30.099999999999998" y1="278.0" x2="32.3" y2="278.0" stroke="#111" stroke-width="0.9" />
<text x="28.9" y="400.5" font-family='"Liberation Serif", serif' font-size="7.4" font-weight="bold" fill="#111" text-anchor="end" textLength="3.4" lengthAdjust="spacingAndGlyphs">0</text>
<text x="28.9" y="380.5" font-family='"Liberation Serif", serif' font-size="7.4" font-weight="bold" fill="#111" text-anchor="end" textLength="13.6" lengthAdjust="spacingAndGlyphs">1000</text>
<text x="28.9" y="360.5" font-family='"Liberation Serif", serif' font-size="7.4" font-weight="bold" fill="#111" text-anchor="end" textLength="13.6" lengthAdjust="spacingAndGlyphs">2000</text>
<text x="28.9" y="340.5" font-family='"Liberation Serif", serif' font-size="7.4" font-weight="bold" fill="#111" text-anchor="end" textLength="13.6" lengthAdjust="spacingAndGlyphs">3000</text>
<text x="28.9" y="320.5" font-family='"Liberation Serif", serif' font-size="7.4" font-weight="bold" fill="#111" text-anchor="end" textLength="13.6" lengthAdjust="spacingAndGlyphs">4000</text>
<text x="28.9" y="300.5" font-family='"Liberation Serif", serif' font-size="7.4" font-weight="bold" fill="#111" text-anchor="end" textLength="13.6" lengthAdjust="spacingAndGlyphs">5000</text>
<text x="28.9" y="280.5" font-family='"Liberation Serif", serif' font-size="7.4" font-weight="bold" fill="#111" text-anchor="end" textLength="13.6" lengthAdjust="spacingAndGlyphs">6000</text>
<line x1="35.8" y1="399.7" x2="35.8" y2="401.0" stroke="#111" stroke-width="0.9" />
<line x1="50.0" y1="399.7" x2="50.0" y2="401.9" stroke="#111" stroke-width="0.9" />
<line x1="64.2" y1="399.7" x2="64.2" y2="401.0" stroke="#111" stroke-width="0.9" />
<line x1="78.4" y1="399.7" x2="78.4" y2="401.9" stroke="#111" stroke-width="0.9" />
<line x1="92.6" y1="399.7" x2="92.6" y2="401.0" stroke="#111" stroke-width="0.9" />
<line x1="106.8" y1="399.7" x2="106.8" y2="401.9" stroke="#111" stroke-width="0.9" />
<line x1="121.0" y1="399.7" x2="121.0" y2="401.0" stroke="#111" stroke-width="0.9" />
<line x1="135.2" y1="399.7" x2="135.2" y2="401.9" stroke="#111" stroke-width="0.9" />
<line x1="149.4" y1="399.7" x2="149.4" y2="401.0" stroke="#111" stroke-width="0.9" />
<line x1="163.6" y1="399.7" x2="163.6" y2="401.9" stroke="#111" stroke-width="0.9" />
<text x="50.0" y="409.3" font-family='"Liberation Serif", serif' font-size="7.6" font-weight="bold" fill="#111" text-anchor="middle" >420</text>
<text x="78.4" y="409.3" font-family='"Liberation Serif", serif' font-size="7.6" font-weight="bold" fill="#111" text-anchor="middle" >450</text>
<text x="106.8" y="409.3" font-family='"Liberation Serif", serif' font-size="7.6" font-weight="bold" fill="#111" text-anchor="middle" >480</text>
<text x="135.2" y="409.3" font-family='"Liberation Serif", serif' font-size="7.6" font-weight="bold" fill="#111" text-anchor="middle" >510</text>
<text x="163.6" y="409.3" font-family='"Liberation Serif", serif' font-size="7.6" font-weight="bold" fill="#111" text-anchor="middle" >540</text>
<text x="72.2" y="421.9" font-family='"Liberation Serif", serif' font-size="7.8" font-weight="bold" fill="#111" text-anchor="start" textLength="56.8" lengthAdjust="spacingAndGlyphs">Wavelength (nm)</text>
<text transform="translate(11.8,388.2) rotate(-90)" font-family='"Liberation Serif", serif' font-weight="bold" font-size="7.6" fill="#111" textLength="90.8" lengthAdjust="spacingAndGlyphs">Fluorescence intensity (a.u.)</text>
<text transform="translate(42.2,291.8) scale(0.9,1.0)" font-family='"Liberation Sans", sans-serif' font-size="14.2" font-weight="bold" fill="#000">e</text>
<clipPath id="eclip"><rect x="32.8" y="279" width="135.4" height="120.4"/></clipPath>
<g clip-path="url(#eclip)">
<path d="M32.50,362.80 C33.78,362.70 37.55,362.40 40.20,362.20 C42.85,362.00 45.67,361.83 48.40,361.60 C51.13,361.37 53.87,361.02 56.60,360.80 C59.33,360.58 62.75,360.43 64.80,360.30 C66.85,360.17 67.53,359.87 68.90,360.00 C70.27,360.13 70.95,360.57 73.00,361.10 C75.05,361.63 78.47,362.65 81.20,363.20 C83.93,363.75 87.10,363.90 89.40,364.40 C91.70,364.90 92.90,365.42 95.00,366.20 C97.10,366.98 99.75,368.27 102.00,369.10 C104.25,369.93 106.23,370.42 108.50,371.20 C110.77,371.98 113.25,372.95 115.60,373.80 C117.95,374.65 120.20,375.47 122.60,376.30 C125.00,377.13 127.20,378.15 130.00,378.80 C132.80,379.45 136.28,379.68 139.40,380.20 C142.52,380.72 145.58,381.35 148.70,381.90 C151.82,382.45 154.83,382.97 158.10,383.50 C161.37,384.03 166.60,384.83 168.30,385.10" fill="none" stroke="#e05858" stroke-width="1.4" stroke-linejoin="round" stroke-linecap="round" />
<path d="M32.50,349.60 C33.78,348.52 37.55,345.15 40.20,343.10 C42.85,341.05 46.10,338.82 48.40,337.30 C50.70,335.78 52.07,335.10 54.00,334.00 C55.93,332.90 58.20,331.53 60.00,330.70 C61.80,329.87 63.23,329.40 64.80,329.00 C66.37,328.60 67.70,328.20 69.40,328.30 C71.10,328.40 73.05,328.92 75.00,329.60 C76.95,330.28 79.27,331.62 81.10,332.40 C82.93,333.18 84.25,333.62 86.00,334.30 C87.75,334.98 90.10,335.72 91.60,336.50 C93.10,337.28 93.73,337.83 95.00,339.00 C96.27,340.17 98.03,342.28 99.20,343.50 C100.37,344.72 100.70,345.22 102.00,346.30 C103.30,347.38 105.25,348.83 107.00,350.00 C108.75,351.17 110.67,352.13 112.50,353.30 C114.33,354.47 116.05,355.73 118.00,357.00 C119.95,358.27 122.20,359.57 124.20,360.90 C126.20,362.23 128.23,363.82 130.00,365.00 C131.77,366.18 133.23,367.07 134.80,368.00 C136.37,368.93 137.08,369.38 139.40,370.60 C141.72,371.82 145.58,373.67 148.70,375.30 C151.82,376.93 154.83,378.97 158.10,380.40 C161.37,381.83 166.60,383.32 168.30,383.90" fill="none" stroke="#2e7fe0" stroke-width="1.5" stroke-linejoin="round" stroke-linecap="round" />
<path d="M32.50,333.20 C33.78,331.83 37.55,327.87 40.20,325.00 C42.85,322.13 45.67,318.72 48.40,316.00 C51.13,313.28 54.67,310.35 56.60,308.70 C58.53,307.05 58.63,306.98 60.00,306.10 C61.37,305.22 63.23,304.08 64.80,303.40 C66.37,302.72 68.03,302.02 69.40,302.00 C70.77,301.98 71.05,302.13 73.00,303.30 C74.95,304.47 78.93,307.25 81.10,309.00 C83.27,310.75 84.25,311.95 86.00,313.80 C87.75,315.65 90.10,318.38 91.60,320.10 C93.10,321.82 93.73,322.28 95.00,324.10 C96.27,325.92 98.03,329.15 99.20,331.00 C100.37,332.85 100.70,333.53 102.00,335.20 C103.30,336.87 105.25,339.05 107.00,341.00 C108.75,342.95 110.67,345.02 112.50,346.90 C114.33,348.78 116.05,350.52 118.00,352.30 C119.95,354.08 122.20,355.98 124.20,357.60 C126.20,359.22 128.23,360.73 130.00,362.00 C131.77,363.27 133.23,364.15 134.80,365.20 C136.37,366.25 137.08,366.85 139.40,368.30 C141.72,369.75 145.58,372.03 148.70,373.90 C151.82,375.77 154.83,377.93 158.10,379.50 C161.37,381.07 166.60,382.67 168.30,383.30" fill="none" stroke="#3a3a3a" stroke-width="1.1" stroke-linejoin="round" stroke-linecap="round" />
</g>
<line x1="84.9" y1="284.2" x2="95.5" y2="284.2" stroke="#555" stroke-width="1.1" />
<line x1="84.9" y1="290.0" x2="95.5" y2="290.0" stroke="#2e7fe0" stroke-width="1.3" />
<line x1="84.9" y1="298.0" x2="95.5" y2="298.0" stroke="#e06060" stroke-width="1.2" />
<text x="96.4" y="286.1" font-family='"Liberation Serif", serif' font-size="5.6" font-weight="bold" fill="#111" text-anchor="start" textLength="35.2" lengthAdjust="spacingAndGlyphs">aptamer-CGQDs</text>
<text x="96.4" y="291.9" font-family='"Liberation Serif", serif' font-weight="bold" font-size="5.6" fill="#111" textLength="69.6" lengthAdjust="spacingAndGlyphs">aptamer-CGQDs+PSA+FL-V<tspan font-size="3.9" dy="1">2</tspan><tspan dy="-1">CT</tspan><tspan font-size="3.9" dy="1">x</tspan></text>
<text x="96.4" y="299.9" font-family='"Liberation Serif", serif' font-weight="bold" font-size="5.6" fill="#111" textLength="58.1" lengthAdjust="spacingAndGlyphs">aptamer-CGQDs+FL-V<tspan font-size="3.9" dy="1">2</tspan><tspan dy="-1">CT</tspan><tspan font-size="3.9" dy="1">x</tspan></text>
<rect x="201.2" y="278.4" width="150.8" height="122.5" fill="none" stroke="#111" stroke-width="1.1" />
<line x1="199.89999999999998" y1="399.5" x2="202.2" y2="399.5" stroke="#111" stroke-width="0.9" />
<line x1="199.0" y1="386.0" x2="201.2" y2="386.0" stroke="#111" stroke-width="0.9" />
<line x1="199.89999999999998" y1="372.5" x2="202.2" y2="372.5" stroke="#111" stroke-width="0.9" />
<line x1="199.0" y1="359.0" x2="201.2" y2="359.0" stroke="#111" stroke-width="0.9" />
<line x1="199.89999999999998" y1="345.5" x2="202.2" y2="345.5" stroke="#111" stroke-width="0.9" />
<line x1="199.0" y1="332.0" x2="201.2" y2="332.0" stroke="#111" stroke-width="0.9" />
<line x1="199.89999999999998" y1="318.5" x2="202.2" y2="318.5" stroke="#111" stroke-width="0.9" />
<line x1="199.0" y1="305.0" x2="201.2" y2="305.0" stroke="#111" stroke-width="0.9" />
<line x1="199.89999999999998" y1="291.5" x2="202.2" y2="291.5" stroke="#111" stroke-width="0.9" />
<line x1="199.0" y1="278.0" x2="201.2" y2="278.0" stroke="#111" stroke-width="0.9" />
<text x="197.7" y="388.5" font-family='"Liberation Serif", serif' font-size="7.4" font-weight="bold" fill="#111" text-anchor="end" textLength="13.6" lengthAdjust="spacingAndGlyphs">1000</text>
<text x="197.7" y="361.5" font-family='"Liberation Serif", serif' font-size="7.4" font-weight="bold" fill="#111" text-anchor="end" textLength="13.6" lengthAdjust="spacingAndGlyphs">2000</text>
<text x="197.7" y="334.5" font-family='"Liberation Serif", serif' font-size="7.4" font-weight="bold" fill="#111" text-anchor="end" textLength="13.6" lengthAdjust="spacingAndGlyphs">3000</text>
<text x="197.7" y="307.5" font-family='"Liberation Serif", serif' font-size="7.4" font-weight="bold" fill="#111" text-anchor="end" textLength="13.6" lengthAdjust="spacingAndGlyphs">4000</text>
<text x="197.7" y="280.5" font-family='"Liberation Serif", serif' font-size="7.4" font-weight="bold" fill="#111" text-anchor="end" textLength="13.6" lengthAdjust="spacingAndGlyphs">5000</text>
<line x1="204.57500000000002" y1="400.9" x2="204.57500000000002" y2="402.2" stroke="#111" stroke-width="0.9" />
<line x1="220.4" y1="400.9" x2="220.4" y2="403.09999999999997" stroke="#111" stroke-width="0.9" />
<line x1="236.225" y1="400.9" x2="236.225" y2="402.2" stroke="#111" stroke-width="0.9" />
<line x1="252.05" y1="400.9" x2="252.05" y2="403.09999999999997" stroke="#111" stroke-width="0.9" />
<line x1="267.875" y1="400.9" x2="267.875" y2="402.2" stroke="#111" stroke-width="0.9" />
<line x1="283.7" y1="400.9" x2="283.7" y2="403.09999999999997" stroke="#111" stroke-width="0.9" />
<line x1="299.525" y1="400.9" x2="299.525" y2="402.2" stroke="#111" stroke-width="0.9" />
<line x1="315.35" y1="400.9" x2="315.35" y2="403.09999999999997" stroke="#111" stroke-width="0.9" />
<line x1="331.175" y1="400.9" x2="331.175" y2="402.2" stroke="#111" stroke-width="0.9" />
<line x1="347.0" y1="400.9" x2="347.0" y2="403.09999999999997" stroke="#111" stroke-width="0.9" />
<text x="220.4" y="411.3" font-family='"Liberation Serif", serif' font-size="7.6" font-weight="bold" fill="#111" text-anchor="middle" >420</text>
<text x="252.05" y="411.3" font-family='"Liberation Serif", serif' font-size="7.6" font-weight="bold" fill="#111" text-anchor="middle" >450</text>
<text x="283.7" y="411.3" font-family='"Liberation Serif", serif' font-size="7.6" font-weight="bold" fill="#111" text-anchor="middle" >480</text>
<text x="315.35" y="411.3" font-family='"Liberation Serif", serif' font-size="7.6" font-weight="bold" fill="#111" text-anchor="middle" >510</text>
<text x="347.0" y="411.3" font-family='"Liberation Serif", serif' font-size="7.6" font-weight="bold" fill="#111" text-anchor="middle" >540</text>
<text x="247.1" y="422.7" font-family='"Liberation Serif", serif' font-size="8.0" font-weight="bold" fill="#111" text-anchor="start" textLength="59.6" lengthAdjust="spacingAndGlyphs">Wavelength (nm)</text>
<text transform="translate(179.1,375.5) rotate(-90)" font-family='"Liberation Serif", serif' font-weight="bold" font-size="7.4" fill="#111" textLength="88.3" lengthAdjust="spacingAndGlyphs">Fluorescence intensity (a.u.)</text>
<text transform="translate(207.4,291.8) scale(1.0,1.0)" font-family='"Liberation Sans", sans-serif' font-size="14.8" font-weight="bold" fill="#000">f</text>
<clipPath id="fclip"><rect x="201.3" y="278" width="150.2" height="122"/></clipPath>
<g clip-path="url(#fclip)">
<path d="M201.00,367.10 C202.00,366.92 204.83,366.38 207.00,366.00 C209.17,365.62 211.67,365.13 214.00,364.80 C216.33,364.47 218.67,364.25 221.00,364.00 C223.33,363.75 225.67,363.47 228.00,363.30 C230.33,363.13 233.00,363.05 235.00,363.00 C237.00,362.95 238.00,362.65 240.00,363.00 C242.00,363.35 244.67,364.40 247.00,365.10 C249.33,365.80 251.67,366.62 254.00,367.20 C256.33,367.78 258.67,368.13 261.00,368.60 C263.33,369.07 265.67,369.17 268.00,370.00 C270.33,370.83 272.67,372.30 275.00,373.60 C277.33,374.90 279.67,376.52 282.00,377.80 C284.33,379.08 286.83,380.23 289.00,381.30 C291.17,382.37 291.50,383.02 295.00,384.20 C298.50,385.38 305.00,387.32 310.00,388.40 C315.00,389.48 320.33,389.77 325.00,390.70 C329.67,391.63 333.55,392.90 338.00,394.00 C342.45,395.10 349.42,396.75 351.70,397.30" fill="none" stroke="#666" stroke-width="1.3" stroke-linejoin="round" stroke-linecap="round" />
<path d="M201.00,365.10 C202.00,364.88 204.83,364.23 207.00,363.80 C209.17,363.37 211.67,362.88 214.00,362.50 C216.33,362.12 218.67,361.78 221.00,361.50 C223.33,361.22 225.67,361.00 228.00,360.80 C230.33,360.60 233.00,360.40 235.00,360.30 C237.00,360.20 238.00,359.87 240.00,360.20 C242.00,360.53 244.67,361.60 247.00,362.30 C249.33,363.00 251.67,363.82 254.00,364.40 C256.33,364.98 258.67,365.33 261.00,365.80 C263.33,366.27 265.67,366.38 268.00,367.20 C270.33,368.02 272.67,369.40 275.00,370.70 C277.33,372.00 279.67,373.70 282.00,375.00 C284.33,376.30 286.83,377.50 289.00,378.50 C291.17,379.50 291.50,379.93 295.00,381.00 C298.50,382.07 305.00,383.67 310.00,384.90 C315.00,386.13 320.33,387.05 325.00,388.40 C329.67,389.75 333.55,391.60 338.00,393.00 C342.45,394.40 349.42,396.17 351.70,396.80" fill="none" stroke="#e04848" stroke-width="1.3" stroke-linejoin="round" stroke-linecap="round" />
<path d="M201.00,361.40 C202.00,361.08 204.83,360.15 207.00,359.50 C209.17,358.85 211.67,358.08 214.00,357.50 C216.33,356.92 218.67,356.42 221.00,356.00 C223.33,355.58 225.67,355.25 228.00,355.00 C230.33,354.75 233.00,354.50 235.00,354.50 C237.00,354.50 238.00,354.63 240.00,355.00 C242.00,355.37 244.67,356.07 247.00,356.70 C249.33,357.33 251.67,358.10 254.00,358.80 C256.33,359.50 258.67,360.32 261.00,360.90 C263.33,361.48 265.67,361.25 268.00,362.30 C270.33,363.35 272.67,365.80 275.00,367.20 C277.33,368.60 279.67,369.52 282.00,370.70 C284.33,371.88 286.83,373.17 289.00,374.30 C291.17,375.43 291.50,376.03 295.00,377.50 C298.50,378.97 305.00,381.28 310.00,383.10 C315.00,384.92 320.33,386.83 325.00,388.40 C329.67,389.97 333.55,391.18 338.00,392.50 C342.45,393.82 349.42,395.67 351.70,396.30" fill="none" stroke="#2c6ed6" stroke-width="1.3" stroke-linejoin="round" stroke-linecap="round" />
<path d="M201.00,358.70 C202.00,358.17 204.83,356.37 207.00,355.50 C209.17,354.63 211.67,354.00 214.00,353.50 C216.33,353.00 218.67,352.88 221.00,352.50 C223.33,352.12 225.67,351.52 228.00,351.20 C230.33,350.88 233.00,350.73 235.00,350.60 C237.00,350.47 238.00,350.08 240.00,350.40 C242.00,350.72 244.67,351.80 247.00,352.50 C249.33,353.20 251.67,353.90 254.00,354.60 C256.33,355.30 258.67,356.12 261.00,356.70 C263.33,357.28 265.67,357.05 268.00,358.10 C270.33,359.15 272.67,361.48 275.00,363.00 C277.33,364.52 279.67,365.92 282.00,367.20 C284.33,368.48 286.83,369.48 289.00,370.70 C291.17,371.92 291.50,372.92 295.00,374.50 C298.50,376.08 305.00,378.28 310.00,380.20 C315.00,382.12 320.33,384.12 325.00,386.00 C329.67,387.88 333.55,389.83 338.00,391.50 C342.45,393.17 349.42,395.25 351.70,396.00" fill="none" stroke="#44aa80" stroke-width="1.3" stroke-linejoin="round" stroke-linecap="round" />
<path d="M201.00,355.00 C202.00,354.33 204.83,352.25 207.00,351.00 C209.17,349.75 211.67,348.67 214.00,347.50 C216.33,346.33 218.67,345.05 221.00,344.00 C223.33,342.95 225.67,342.02 228.00,341.20 C230.33,340.38 233.00,339.55 235.00,339.10 C237.00,338.65 238.00,338.52 240.00,338.50 C242.00,338.48 244.67,338.20 247.00,339.00 C249.33,339.80 251.67,342.22 254.00,343.30 C256.33,344.38 258.67,344.55 261.00,345.50 C263.33,346.45 265.67,347.13 268.00,349.00 C270.33,350.87 272.67,354.37 275.00,356.70 C277.33,359.03 279.67,361.13 282.00,363.00 C284.33,364.87 286.83,366.50 289.00,367.90 C291.17,369.30 291.50,369.65 295.00,371.40 C298.50,373.15 305.00,376.15 310.00,378.40 C315.00,380.65 320.33,382.88 325.00,384.90 C329.67,386.92 333.55,388.68 338.00,390.50 C342.45,392.32 349.42,394.92 351.70,395.80" fill="none" stroke="#b07ee0" stroke-width="1.3" stroke-linejoin="round" stroke-linecap="round" />
<path d="M201.00,348.50 C202.00,347.50 204.83,344.65 207.00,342.50 C209.17,340.35 211.67,337.80 214.00,335.60 C216.33,333.40 218.67,331.18 221.00,329.30 C223.33,327.42 225.67,325.63 228.00,324.30 C230.33,322.97 233.00,322.08 235.00,321.30 C237.00,320.52 238.00,319.73 240.00,319.60 C242.00,319.47 244.67,319.83 247.00,320.50 C249.33,321.17 251.67,322.18 254.00,323.60 C256.33,325.02 258.67,327.00 261.00,329.00 C263.33,331.00 265.67,333.22 268.00,335.60 C270.33,337.98 272.67,340.95 275.00,343.30 C277.33,345.65 279.67,347.58 282.00,349.70 C284.33,351.82 286.83,354.05 289.00,356.00 C291.17,357.95 291.50,358.83 295.00,361.40 C298.50,363.97 305.00,367.88 310.00,371.40 C315.00,374.92 320.33,379.48 325.00,382.50 C329.67,385.52 333.55,387.33 338.00,389.50 C342.45,391.67 349.42,394.50 351.70,395.50" fill="none" stroke="#c9a020" stroke-width="1.3" stroke-linejoin="round" stroke-linecap="round" />
<path d="M201.00,337.00 C202.00,335.83 204.83,332.38 207.00,330.00 C209.17,327.62 211.67,325.17 214.00,322.70 C216.33,320.23 218.67,317.27 221.00,315.20 C223.33,313.13 225.67,311.50 228.00,310.30 C230.33,309.10 233.00,308.65 235.00,308.00 C237.00,307.35 238.00,306.63 240.00,306.40 C242.00,306.17 244.67,306.03 247.00,306.60 C249.33,307.17 251.67,308.40 254.00,309.80 C256.33,311.20 258.67,313.22 261.00,315.00 C263.33,316.78 265.67,318.08 268.00,320.50 C270.33,322.92 272.67,326.08 275.00,329.50 C277.33,332.92 279.67,337.58 282.00,341.00 C284.33,344.42 286.83,347.48 289.00,350.00 C291.17,352.52 291.50,353.32 295.00,356.10 C298.50,358.88 305.00,363.18 310.00,366.70 C315.00,370.22 320.33,373.82 325.00,377.20 C329.67,380.58 333.55,384.03 338.00,387.00 C342.45,389.97 349.42,393.67 351.70,395.00" fill="none" stroke="#30cccc" stroke-width="1.3" stroke-linejoin="round" stroke-linecap="round" />
<path d="M201.00,330.70 C202.00,329.28 204.83,325.13 207.00,322.20 C209.17,319.27 211.67,316.02 214.00,313.10 C216.33,310.18 218.67,307.28 221.00,304.70 C223.33,302.12 225.67,299.48 228.00,297.60 C230.33,295.72 233.00,294.43 235.00,293.40 C237.00,292.37 238.00,291.35 240.00,291.40 C242.00,291.45 244.67,292.72 247.00,293.70 C249.33,294.68 251.67,295.83 254.00,297.30 C256.33,298.77 258.67,300.22 261.00,302.50 C263.33,304.78 265.67,307.67 268.00,311.00 C270.33,314.33 272.67,318.83 275.00,322.50 C277.33,326.17 279.67,329.67 282.00,333.00 C284.33,336.33 286.83,339.72 289.00,342.50 C291.17,345.28 291.50,346.15 295.00,349.70 C298.50,353.25 305.00,359.40 310.00,363.80 C315.00,368.20 320.33,372.40 325.00,376.10 C329.67,379.80 333.55,382.93 338.00,386.00 C342.45,389.07 349.42,393.08 351.70,394.50" fill="none" stroke="#9c9ccc" stroke-width="1.3" stroke-linejoin="round" stroke-linecap="round" />
</g>
<line x1="300.9" y1="285.6" x2="313.2" y2="285.6" stroke="#9c9ccc" stroke-width="1.3" />
<text x="314.9" y="287.6" font-family='"Liberation Serif", serif' font-weight="bold" font-size="5.8" fill="#111">20 ng mL<tspan font-size="3.6" dy="-2.4">-1</tspan></text>
<line x1="300.9" y1="294.27000000000004" x2="313.2" y2="294.27000000000004" stroke="#30cccc" stroke-width="1.3" />
<text x="314.9" y="296.3" font-family='"Liberation Serif", serif' font-weight="bold" font-size="5.8" fill="#111">15 ng mL<tspan font-size="3.6" dy="-2.4">-1</tspan></text>
<line x1="300.9" y1="302.94" x2="313.2" y2="302.94" stroke="#c9a020" stroke-width="1.3" />
<text x="314.9" y="304.9" font-family='"Liberation Serif", serif' font-weight="bold" font-size="5.8" fill="#111">10 ng mL<tspan font-size="3.6" dy="-2.4">-1</tspan></text>
<line x1="300.9" y1="311.61" x2="313.2" y2="311.61" stroke="#b07ee0" stroke-width="1.3" />
<text x="314.9" y="313.6" font-family='"Liberation Serif", serif' font-weight="bold" font-size="5.8" fill="#111">5 ng mL<tspan font-size="3.6" dy="-2.4">-1</tspan></text>
<line x1="300.9" y1="320.28000000000003" x2="313.2" y2="320.28000000000003" stroke="#44aa80" stroke-width="1.3" />
<text x="314.9" y="322.3" font-family='"Liberation Serif", serif' font-weight="bold" font-size="5.8" fill="#111">3 ng mL<tspan font-size="3.6" dy="-2.4">-1</tspan></text>
<line x1="300.9" y1="328.95000000000005" x2="313.2" y2="328.95000000000005" stroke="#2c6ed6" stroke-width="1.3" />
<text x="314.9" y="331.0" font-family='"Liberation Serif", serif' font-weight="bold" font-size="5.8" fill="#111">0.5 ng mL<tspan font-size="3.6" dy="-2.4">-1</tspan></text>
<line x1="300.9" y1="337.62" x2="313.2" y2="337.62" stroke="#e04848" stroke-width="1.3" />
<text x="314.9" y="339.6" font-family='"Liberation Serif", serif' font-weight="bold" font-size="5.8" fill="#111">0.1 ng mL<tspan font-size="3.6" dy="-2.4">-1</tspan></text>
<line x1="300.9" y1="346.29" x2="313.2" y2="346.29" stroke="#666" stroke-width="1.3" />
<text x="314.9" y="348.3" font-family='"Liberation Serif", serif' font-weight="bold" font-size="5.8" fill="#111">0 ng mL<tspan font-size="3.6" dy="-2.4">-1</tspan></text>
<rect x="390.4" y="280.0" width="150.80000000000007" height="119.60000000000002" fill="none" stroke="#111" stroke-width="1.1" />
<line x1="388.2" y1="399.4" x2="390.4" y2="399.4" stroke="#111" stroke-width="0.9" />
<line x1="389.09999999999997" y1="385.84999999999997" x2="391.4" y2="385.84999999999997" stroke="#111" stroke-width="0.9" />
<line x1="388.2" y1="372.29999999999995" x2="390.4" y2="372.29999999999995" stroke="#111" stroke-width="0.9" />
<line x1="389.09999999999997" y1="358.75" x2="391.4" y2="358.75" stroke="#111" stroke-width="0.9" />
<line x1="388.2" y1="345.2" x2="390.4" y2="345.2" stroke="#111" stroke-width="0.9" />
<line x1="389.09999999999997" y1="331.65" x2="391.4" y2="331.65" stroke="#111" stroke-width="0.9" />
<line x1="388.2" y1="318.09999999999997" x2="390.4" y2="318.09999999999997" stroke="#111" stroke-width="0.9" />
<line x1="389.09999999999997" y1="304.54999999999995" x2="391.4" y2="304.54999999999995" stroke="#111" stroke-width="0.9" />
<line x1="388.2" y1="291.0" x2="390.4" y2="291.0" stroke="#111" stroke-width="0.9" />
<text x="386.0" y="401.9" font-family='"Liberation Serif", serif' font-size="7.4" font-weight="bold" fill="#111" text-anchor="end" textLength="3.4" lengthAdjust="spacingAndGlyphs">0</text>
<text x="386.0" y="374.79999999999995" font-family='"Liberation Serif", serif' font-size="7.4" font-weight="bold" fill="#111" text-anchor="end" textLength="10.2" lengthAdjust="spacingAndGlyphs">600</text>
<text x="386.0" y="347.7" font-family='"Liberation Serif", serif' font-size="7.4" font-weight="bold" fill="#111" text-anchor="end" textLength="13.6" lengthAdjust="spacingAndGlyphs">1200</text>
<text x="386.0" y="320.59999999999997" font-family='"Liberation Serif", serif' font-size="7.4" font-weight="bold" fill="#111" text-anchor="end" textLength="13.6" lengthAdjust="spacingAndGlyphs">1800</text>
<text x="386.0" y="293.5" font-family='"Liberation Serif", serif' font-size="7.4" font-weight="bold" fill="#111" text-anchor="end" textLength="13.6" lengthAdjust="spacingAndGlyphs">2400</text>
<text transform="translate(366.9,355.4) rotate(-90)" font-family='"Liberation Serif", serif' font-weight="bold" font-size="8" fill="#111" textLength="31.8" lengthAdjust="spacingAndGlyphs">ΔF (a.u.)</text>
<text x="363.8" y="285" font-family='"Liberation Serif", serif' font-size="15" font-weight="bold" fill="#000" text-anchor="start" >g</text>
<rect x="399.4" y="305.00166666666667" width="12.0" height="94.59833333333336" fill="#ff0000" stroke="none" stroke-width="1" />
<line x1="405.4" y1="308.615" x2="405.4" y2="301.3883333333333" stroke="#111" stroke-width="0.9" />
<line x1="403.2" y1="301.3883333333333" x2="407.59999999999997" y2="301.3883333333333" stroke="#111" stroke-width="0.9" />
<line x1="403.2" y1="308.615" x2="407.59999999999997" y2="308.615" stroke="#111" stroke-width="0.9" />
<text transform="translate(410.0,407.2) rotate(-45)" font-family='"Liberation Serif", serif' font-weight="bold" font-size="6.4" fill="#111" text-anchor="end">PSA</text>
<rect x="423.3" y="389.4633333333333" width="12.300000000000011" height="10.136666666666713" fill="#7e2fc0" stroke="none" stroke-width="1" />
<line x1="429.45000000000005" y1="390.5925" x2="429.45000000000005" y2="388.33416666666665" stroke="#111" stroke-width="0.9" />
<line x1="427.25000000000006" y1="388.33416666666665" x2="431.65000000000003" y2="388.33416666666665" stroke="#111" stroke-width="0.9" />
<line x1="427.25000000000006" y1="390.5925" x2="431.65000000000003" y2="390.5925" stroke="#111" stroke-width="0.9" />
<text transform="translate(434.1,407.2) rotate(-45)" font-family='"Liberation Serif", serif' font-weight="bold" font-size="6.4" fill="#111" text-anchor="end">BSA</text>
<rect x="447.4" y="393.97999999999996" width="12.400000000000034" height="5.620000000000061" fill="#3f7f1f" stroke="none" stroke-width="1" />
<line x1="453.6" y1="394.522" x2="453.6" y2="393.438" stroke="#111" stroke-width="0.9" />
<line x1="451.40000000000003" y1="393.438" x2="455.8" y2="393.438" stroke="#111" stroke-width="0.9" />
<line x1="451.40000000000003" y1="394.522" x2="455.8" y2="394.522" stroke="#111" stroke-width="0.9" />
<text transform="translate(458.2,407.2) rotate(-45)" font-family='"Liberation Serif", serif' font-weight="bold" font-size="6.4" fill="#111" text-anchor="end">HSA</text>
<rect x="471.5" y="391.0441666666666" width="12.399999999999977" height="8.555833333333396" fill="#5c9ef0" stroke="none" stroke-width="1" />
<line x1="477.7" y1="391.9475" x2="477.7" y2="390.1408333333333" stroke="#111" stroke-width="0.9" />
<line x1="475.5" y1="390.1408333333333" x2="479.9" y2="390.1408333333333" stroke="#111" stroke-width="0.9" />
<line x1="475.5" y1="391.9475" x2="479.9" y2="391.9475" stroke="#111" stroke-width="0.9" />
<text transform="translate(482.3,407.2) rotate(-45)" font-family='"Liberation Serif", serif' font-weight="bold" font-size="6.4" fill="#111" text-anchor="end">CEA</text>
<rect x="495.6" y="395.1091666666666" width="12.399999999999977" height="4.4908333333333985" fill="#f4a060" stroke="none" stroke-width="1" />
<line x1="501.8" y1="395.47049999999996" x2="501.8" y2="394.7478333333333" stroke="#111" stroke-width="0.9" />
<line x1="499.6" y1="394.7478333333333" x2="504.0" y2="394.7478333333333" stroke="#111" stroke-width="0.9" />
<line x1="499.6" y1="395.47049999999996" x2="504.0" y2="395.47049999999996" stroke="#111" stroke-width="0.9" />
<text transform="translate(506.4,407.2) rotate(-45)" font-family='"Liberation Serif", serif' font-weight="bold" font-size="6.4" fill="#111" text-anchor="end">CA125</text>
<rect x="519.7" y="398.49666666666667" width="12.299999999999955" height="1.103333333333353" fill="#4cc4c4" stroke="none" stroke-width="1" />
<line x1="525.85" y1="398.72249999999997" x2="525.85" y2="398.2708333333333" stroke="#111" stroke-width="0.9" />
<line x1="523.65" y1="398.2708333333333" x2="528.0500000000001" y2="398.2708333333333" stroke="#111" stroke-width="0.9" />
<line x1="523.65" y1="398.72249999999997" x2="528.0500000000001" y2="398.72249999999997" stroke="#111" stroke-width="0.9" />
<text transform="translate(530.5,407.2) rotate(-45)" font-family='"Liberation Serif", serif' font-weight="bold" font-size="6.4" fill="#111" text-anchor="end">AFP</text>
</svg></body></html>
